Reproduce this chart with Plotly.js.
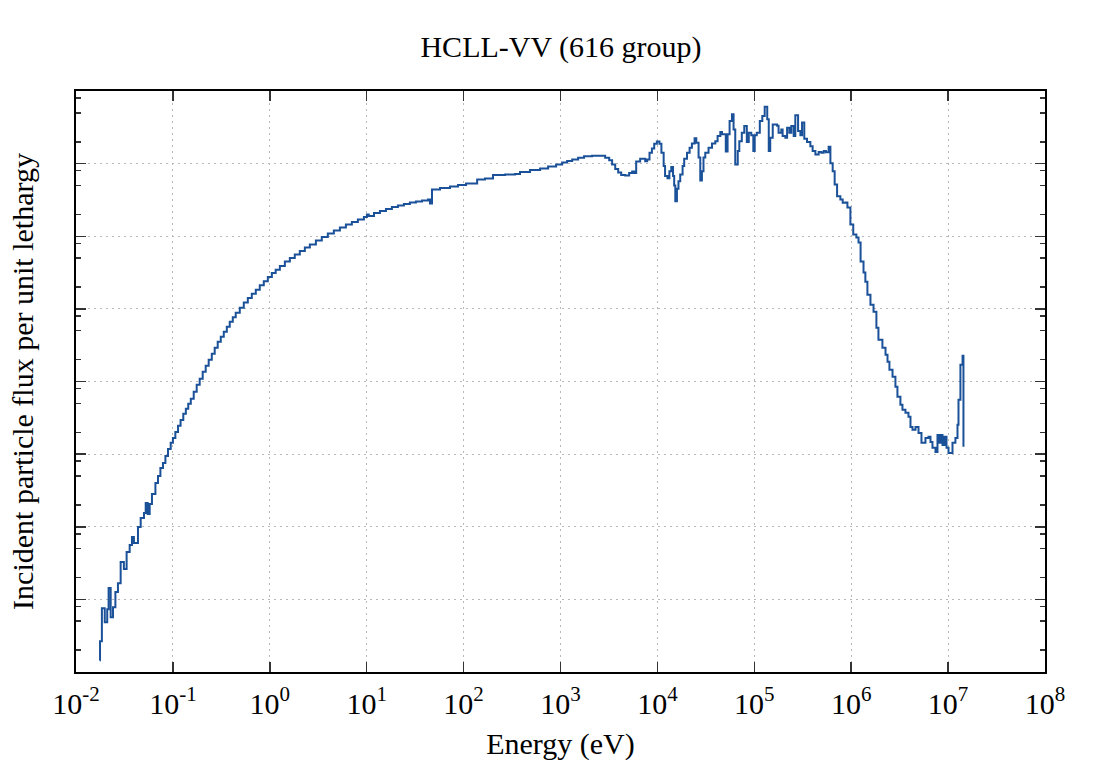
<!DOCTYPE html>
<html>
<head>
<meta charset="utf-8">
<script src="https://cdn.plot.ly/plotly-3.0.1.min.js"></script>
<style>body{margin:0;background:#fff}</style>
</head>
<body>
<div id="chart" style="width:1100px;height:770px"></div>
<script>
// group lower edges (eV) and flux per unit lethargy
const energy = [
    1.75e-2, 1.77e-2, 1.85e-2, 1.98e-2, 2.10e-2, 2.17e-2, 2.28e-2, 2.41e-2, 2.55e-2, 2.71e-2,
    2.89e-2, 3.12e-2, 3.33e-2, 3.58e-2, 3.78e-2, 3.96e-2, 4.36e-2, 4.65e-2, 5.03e-2, 5.24e-2,
    5.49e-2, 5.76e-2, 6.08e-2, 6.60e-2, 7.02e-2, 7.43e-2, 7.90e-2, 8.37e-2, 8.90e-2, 9.49e-2,
    0.100, 0.106, 0.113, 0.120, 0.128, 0.136, 0.144, 0.153, 0.164, 0.176,
    0.189, 0.203, 0.218, 0.234, 0.252, 0.270, 0.290, 0.312, 0.335, 0.360,
    0.386, 0.415, 0.445, 0.490, 0.539, 0.593, 0.652, 0.717, 0.788, 0.867,
    0.954, 1.05, 1.15, 1.27, 1.43, 1.61, 1.81, 2.04, 2.30, 2.59,
    2.99, 3.44, 3.97, 4.58, 5.29, 6.10, 7.03, 8.11, 9.36, 10.05,
    10.5, 11.9, 13.7, 15.8, 18.2, 21.0, 24.2, 27.9, 32.2, 37.2,
    42.9, 45.0, 47.2, 57.1, 72.4, 87.6, 106, 138, 166, 201,
    268, 340, 382, 485, 616, 745, 901, 1040, 1170, 1320,
    1520, 1750, 2120, 2570, 2890, 3180, 3410, 3670, 3940, 4230,
    4650, 5110, 5490, 5760, 6040, 6640, 7480, 7840, 8290, 8780,
    9270, 9880, 1.05e4, 1.10e4, 1.16e4, 1.20e4, 1.27e4, 1.33e4, 1.39e4, 1.45e4,
    1.49e4, 1.53e4, 1.59e4, 1.65e4, 1.72e4, 1.82e4, 1.89e4, 2.02e4, 2.15e4, 2.27e4,
    2.42e4, 2.52e4, 2.66e4, 2.77e4, 2.88e4, 2.99e4, 3.12e4, 3.37e4, 3.66e4, 3.96e4,
    4.18e4, 4.46e4, 4.64e4, 5.08e4, 5.30e4, 5.56e4, 5.88e4, 6.11e4, 6.36e4, 6.75e4,
    7.00e4, 7.43e4, 7.88e4, 8.37e4, 8.77e4, 9.31e4, 9.77e4, 1.01e5, 1.06e5, 1.14e5,
    1.21e5, 1.28e5, 1.36e5, 1.41e5, 1.46e5, 1.55e5, 1.72e5, 1.78e5, 1.90e5, 1.96e5,
    2.09e5, 2.18e5, 2.30e5, 2.41e5, 2.55e5, 2.65e5, 2.83e5, 2.99e5, 3.11e5, 3.28e5,
    3.50e5, 3.79e5, 4.00e5, 4.27e5, 4.62e5, 4.92e5, 5.20e5, 5.48e5, 5.85e5, 6.10e5,
    6.44e5, 6.75e5, 7.15e5, 7.73e5, 8.17e5, 8.71e5, 9.14e5, 9.81e5, 1.05e6, 1.13e6,
    1.19e6, 1.25e6, 1.34e6, 1.40e6, 1.47e6, 1.58e6, 1.70e6, 1.82e6, 1.91e6, 2.10e6,
    2.26e6, 2.37e6, 2.48e6, 2.67e6, 2.86e6, 3.00e6, 3.22e6, 3.38e6, 3.63e6, 3.90e6,
    4.09e6, 4.29e6, 4.61e6, 4.95e6, 5.31e6, 5.84e6, 6.27e6, 6.58e6, 6.90e6, 7.41e6,
    7.77e6, 7.96e6, 8.35e6, 8.75e6, 9.18e6, 9.63e6, 1.01e7, 1.11e7, 1.19e7, 1.25e7,
    1.28e7, 1.34e7, 1.41e7, 1.44e7
]

const flux = [
    1.45e4, 2.65e4, 7.56e4, 4.85e4, 7.32e4, 1.43e5, 5.68e4, 7.80e4, 1.26e5, 1.67e5,
    3.26e5, 2.61e5, 4.48e5, 5.59e5, 7.21e5, 5.96e5, 9.91e5, 1.32e6, 1.55e6, 2.12e6,
    1.50e6, 2.06e6, 2.82e6, 4.01e6, 5.00e6, 6.45e6, 7.56e6, 9.45e6, 1.18e7, 1.43e7,
    1.67e7, 2.02e7, 2.45e7, 2.96e7, 3.59e7, 4.20e7, 4.93e7, 5.77e7, 7.21e7, 9.01e7,
    1.09e8, 1.36e8, 1.65e8, 1.99e8, 2.41e8, 2.92e8, 3.53e8, 4.14e8, 4.85e8, 5.68e8,
    6.66e8, 7.68e8, 8.86e8, 1.04e9, 1.22e9, 1.41e9, 1.62e9, 1.84e9, 2.12e9, 2.41e9,
    2.74e9, 3.11e9, 3.47e9, 3.88e9, 4.48e9, 5.00e9, 5.59e9, 6.25e9, 6.99e9, 7.68e9,
    8.72e9, 9.75e9, 1.09e10, 1.20e10, 1.32e10, 1.45e10, 1.57e10, 1.70e10, 1.84e10, 1.99e10,
    1.90e10, 2.09e10, 2.23e10, 2.37e10, 2.53e10, 2.65e10, 2.78e10, 2.92e10, 3.01e10, 3.11e10,
    3.21e10, 2.83e10, 4.41e10, 4.62e10, 4.85e10, 5.09e10, 5.33e10, 6.05e10, 6.25e10, 6.99e10,
    7.10e10, 7.21e10, 7.68e10, 8.19e10, 8.59e10, 9.15e10, 9.75e10, 1.04e11, 1.09e11, 1.14e11,
    1.20e11, 1.26e11, 1.28e11, 1.28e11, 1.20e11, 1.11e11, 9.75e10, 8.45e10, 7.56e10, 6.99e10,
    6.88e10, 7.44e10, 7.80e10, 7.44e10, 1.07e11, 1.17e11, 1.08e11, 1.14e11, 1.41e11, 1.61e11,
    1.88e11, 2.01e11, 1.88e11, 1.41e11, 9.24e10, 6.73e10, 6.31e10, 7.88e10, 8.95e10, 6.73e10,
    5.00e10, 3.04e10, 4.51e10, 5.74e10, 7.10e10, 9.24e10, 1.17e11, 1.41e11, 1.66e11, 1.90e11,
    2.23e11, 1.94e11, 1.21e11, 5.87e10, 7.88e10, 1.21e11, 1.41e11, 1.66e11, 1.90e11, 2.04e11,
    2.40e11, 2.72e11, 2.53e11, 1.47e11, 2.53e11, 3.86e11, 4.77e11, 2.96e11, 9.75e10, 1.49e11,
    2.04e11, 2.67e11, 3.29e11, 1.98e11, 2.67e11, 2.45e11, 1.49e11, 2.45e11, 2.67e11, 3.86e11,
    4.52e11, 6.09e11, 4.07e11, 1.49e11, 2.28e11, 3.47e11, 3.31e11, 2.67e11, 2.96e11, 2.40e11,
    2.28e11, 3.13e11, 2.67e11, 3.29e11, 2.40e11, 4.62e11, 2.81e11, 2.45e11, 3.67e11, 2.20e11,
    1.98e11, 1.74e11, 1.49e11, 1.34e11, 1.44e11, 1.41e11, 1.49e11, 1.43e11, 1.71e11, 1.01e11,
    7.88e10, 5.17e10, 3.56e10, 3.21e10, 2.89e10, 2.92e10, 2.49e10, 1.45e10, 1.06e10, 9.60e9,
    8.19e9, 4.48e9, 3.16e9, 2.37e9, 1.57e9, 1.14e9, 9.15e8, 5.51e8, 3.76e8, 2.92e8,
    2.34e8, 1.87e8, 1.45e8, 1.16e8, 8.45e7, 6.15e7, 4.77e7, 4.07e7, 3.70e7, 3.26e7,
    2.37e7, 2.16e7, 2.37e7, 1.96e7, 1.43e7, 1.67e7, 1.73e7, 1.47e7, 1.22e7, 1.07e7,
    1.84e7, 1.43e7, 1.84e7, 1.34e7, 1.73e7, 1.22e7, 1.04e7, 1.43e7, 1.67e7, 2.53e7,
    5.59e7, 1.70e8, 2.26e8, 1.26e7
]

const xTickVals = [1e-2, 1e-1, 1e0, 1e1, 1e2, 1e3, 1e4, 1e5, 1e6, 1e7, 1e8]
const xTickText = ['-2', '-1', '0', '1', '2', '3', '4', '5', '6', '7', '8'].map(p => '10<sup>' + p + '</sup>')
const yTickVals = [1e4, 1e5, 1e6, 1e7, 1e8, 1e9, 1e10, 1e11, 1e12]

// minor ticks on y at 2, 5, 8 of each decade
let yMinor = []
for (let k = 4; k < 12; k++) {
    for (let m of [2, 5, 8]) yMinor.push(m * Math.pow(10, k))
}

const serif = 'Liberation Serif, Times New Roman, serif'

let trace = {
    x: energy,
    y: flux,
    type: 'scatter',
    mode: 'lines',
    line: {shape: 'hv', color: '#1a5198', width: 2},
    hoverinfo: 'skip'
}

let axisBase = {
    type: 'log',
    showline: true,
    linecolor: '#000',
    linewidth: 2,
    mirror: 'ticks',
    ticks: 'inside',
    ticklen: 10,
    tickwidth: 1.5,
    tickcolor: '#333',
    showgrid: true,
    gridcolor: '#b8b8b8',
    griddash: '2px,4px',
    gridwidth: 1,
    zeroline: false
}

let layout = {
    width: 1100,
    height: 770,
    margin: {l: 76, r: 55, t: 91, b: 98},
    paper_bgcolor: '#fff',
    plot_bgcolor: '#fff',
    showlegend: false,
    font: {family: serif, color: '#000', size: 30},
    title: {
        text: 'HCLL-VV (616 group)',
        font: {family: serif, size: 30, color: '#000'},
        x: 0.51, xanchor: 'center',
        y: 0.94, yanchor: 'middle'
    },
    xaxis: Object.assign({}, axisBase, {
        range: [-2, 8],
        tickmode: 'array',
        tickvals: xTickVals,
        ticktext: xTickText,
        tickfont: {family: serif, size: 30, color: '#000'},
        ticklabelstandoff: 4,
        title: {text: 'Energy (eV)', font: {family: serif, size: 30, color: '#000'}, standoff: 14}
    }),
    yaxis: Object.assign({}, axisBase, {
        range: [4, 12],
        tickmode: 'array',
        tickvals: yTickVals,
        showticklabels: false,
        minor: {tickmode: 'array', tickvals: yMinor, ticks: 'inside', ticklen: 5, tickcolor: '#333', showgrid: false},
        title: {text: 'Incident particle flux per unit lethargy', font: {family: serif, size: 30, color: '#000'}, standoff: 32}
    })
}

Plotly.newPlot('chart', [trace], layout, {staticPlot: true})
</script>
</body>
</html>
